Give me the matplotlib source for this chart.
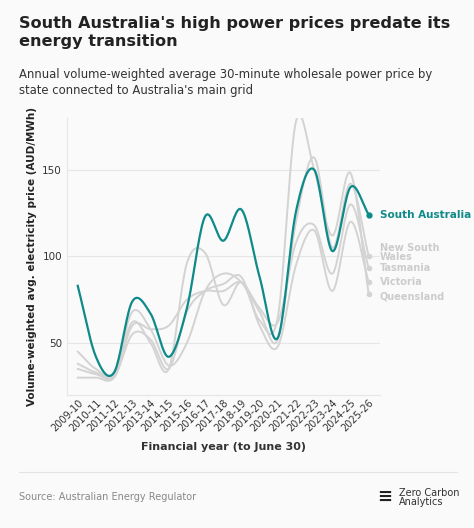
import numpy as np
import matplotlib
matplotlib.use("Agg")
import matplotlib.pyplot as plt

years = ["2009-10","2010-11","2011-12","2012-13","2013-14","2014-15","2015-16","2016-17",
         "2017-18","2018-19","2019-20","2020-21","2021-22","2022-23","2023-24","2024-25","2025-26"]
south_australia = [83, 42, 33, 74, 67, 42, 70, 123, 109, 127, 88, 53, 126, 150, 103, 140, 124]
new_south_wales = [45, 35, 33, 68, 58, 37, 50, 80, 90, 85, 68, 52, 120, 157, 105, 142, 100]
tasmania = [35, 32, 31, 60, 58, 60, 75, 80, 80, 85, 70, 62, 108, 118, 90, 130, 93]
victoria = [30, 30, 30, 55, 52, 35, 68, 80, 84, 88, 60, 48, 95, 115, 80, 120, 85]
queensland = [38, 33, 32, 62, 50, 35, 96, 102, 72, 85, 63, 65, 178, 150, 112, 148, 78]

def smooth(y, n=20):
    y = np.asarray(y, float)
    p = np.concatenate([[2*y[0]-y[1]], y, [2*y[-1]-y[-2]]])
    xs, ys = [], []
    for i in range(len(y)-1):
        p0, p1, p2, p3 = p[i], p[i+1], p[i+2], p[i+3]
        t = np.linspace(0, 1, n, endpoint=False)
        v = 0.5*((2*p1) + (-p0+p2)*t + (2*p0-5*p1+4*p2-p3)*t**2 + (-p0+3*p1-3*p2+p3)*t**3)
        xs.append(i+t); ys.append(v)
    xs.append([len(y)-1]); ys.append([y[-1]])
    return np.concatenate(xs), np.concatenate(ys)

bg = "#fafafa"
fig = plt.figure(figsize=(4.74, 5.28), dpi=100, facecolor=bg)
ax = fig.add_axes([0.141, 0.252, 0.66, 0.525], facecolor=bg)
grey = "#d3d3d3"
teal = "#0e8a8a"
greys = [("New South\nWales", new_south_wales, 100), ("Tasmania", tasmania, 93),
         ("Victoria", victoria, 85), ("Queensland", queensland, 78)]
label_y = [102, 93, 85, 77]
for (name, vals, _), ly in zip(greys, label_y):
    xs, ys = smooth(vals)
    ax.plot(xs, ys, color=grey, lw=1.4, zorder=2)
    ax.plot(16, vals[-1], 'o', color=grey, ms=3, zorder=2)
    ax.annotate(name, xy=(16, vals[-1]), xytext=(16.6, ly), color="#cccccc",
                fontsize=7, fontweight="bold", va="center", linespacing=0.85,
                annotation_clip=False)
xs, ys = smooth(south_australia)
ax.plot(xs, ys, color=teal, lw=1.6, zorder=3)
ax.plot(16, south_australia[-1], 'o', color=teal, ms=3.5, zorder=3)
ax.text(16.6, south_australia[-1], "South Australia", color=teal, fontsize=7.5,
        fontweight="bold", va="center")

ax.set_xlim(-0.6, 16.6)
ax.set_ylim(20, 180)
ax.set_yticks([50, 100, 150])
ax.set_xticks(range(len(years)))
ax.set_xticklabels(years, rotation=45, ha="right", rotation_mode="anchor", fontsize=7, color="#333333")
ax.tick_params(axis="y", labelsize=7.5, colors="#333333", length=0)
ax.tick_params(axis="x", length=0, pad=2)
ax.grid(axis="y", color="#e6e6e6", lw=0.8)
for s in ["top", "right"]:
    ax.spines[s].set_visible(False)
ax.spines["left"].set_color("#e6e6e6")
ax.spines["bottom"].set_color("#e6e6e6")
ax.set_ylabel("Volume-weighted avg. electricity price (AUD/MWh)", fontsize=7.5,
              fontweight="bold", color="#222222")
ax.set_xlabel("Financial year (to June 30)", fontsize=8, fontweight="bold", color="#333333", labelpad=6)

fig.text(0.04, 0.97, "South Australia's high power prices predate its\nenergy transition",
         fontsize=11.6, fontweight="bold", va="top", color="#222222", linespacing=1.25)
fig.text(0.04, 0.872, "Annual volume-weighted average 30-minute wholesale power price by\nstate connected to Australia's main grid",
         fontsize=8.4, va="top", color="#333333", linespacing=1.3)
fig.add_artist(plt.Line2D([0.04, 0.965], [0.106, 0.106], color="#e3e3e3", lw=0.8))
fig.text(0.04, 0.058, "Source: Australian Energy Regulator", fontsize=7, color="#888888", va="center")
fig.text(0.842, 0.058, "Zero Carbon\nAnalytics", fontsize=7, color="#333333", va="center", linespacing=0.9)
fig.text(0.795, 0.058, "\u2261", fontsize=13, color="#222222", va="center", fontweight="bold")
fig.savefig("out.png", dpi=100, facecolor=bg)
